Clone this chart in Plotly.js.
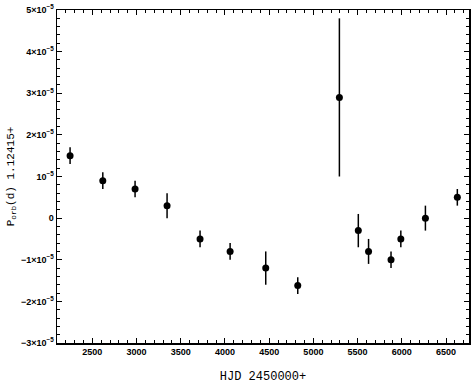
<!DOCTYPE html>
<html>
<head>
<meta charset="utf-8">
<script src="https://cdn.plot.ly/plotly-3.0.1.min.js"></script>
<style>html,body{margin:0;padding:0;background:#fff;}#chart{width:474px;height:384px;}</style>
</head>
<body>
<div id="chart"></div>
<script>
// HJD - 2450000
var hjd = [2248, 2618, 2983, 3345, 3718, 4058, 4461, 4823, 5294, 5508, 5624, 5878, 5989, 6267, 6628];
// Porb(d) - 1.12415
var porb = [1.5e-5, 0.9e-5, 0.7e-5, 0.3e-5, -0.5e-5, -0.8e-5, -1.2e-5, -1.62e-5, 2.9e-5, -0.3e-5, -0.8e-5, -1.0e-5, -0.5e-5, 0.0, 0.5e-5];
var porbErr = [0.2e-5, 0.2e-5, 0.2e-5, 0.3e-5, 0.2e-5, 0.2e-5, 0.4e-5, 0.2e-5, 1.9e-5, 0.4e-5, 0.3e-5, 0.2e-5, 0.2e-5, 0.3e-5, 0.2e-5];

var xTickVals = [2500, 3000, 3500, 4000, 4500, 5000, 5500, 6000, 6500];
var yTickVals = [-3e-5, -2e-5, -1e-5, 0, 1e-5, 2e-5, 3e-5, 4e-5, 5e-5];
var yTickText = ['\u22123\u00d710<sup>\u22125</sup>', '\u22122\u00d710<sup>\u22125</sup>', '\u22121\u00d710<sup>\u22125</sup>', '0', '10<sup>\u22125</sup>', '2\u00d710<sup>\u22125</sup>', '3\u00d710<sup>\u22125</sup>', '4\u00d710<sup>\u22125</sup>', '5\u00d710<sup>\u22125</sup>'];

var trace = {
  x: hjd, y: porb, type: 'scatter', mode: 'markers',
  marker: {color: '#000', size: 7},
  error_y: {type: 'data', array: porbErr, visible: true, color: '#000', thickness: 1.5, width: 0},
  hoverinfo: 'none'
};

var tickFont = {family: 'Liberation Sans, Arial, sans-serif', size: 9, color: '#000', weight: 'bold'};
var layout = {
  width: 474, height: 384,
  margin: {l: 57, r: 5, t: 10, b: 41},
  paper_bgcolor: '#fff', plot_bgcolor: '#fff',
  showlegend: false,
  xaxis: {
    range: [2100, 6760], tickvals: xTickVals, ticktext: xTickVals.map(String),
    ticks: 'inside', ticklen: 5, tickwidth: 1, tickcolor: '#000',
    minor: {dtick: 100, ticks: 'inside', ticklen: 3, tickwidth: 1, tickcolor: '#000', showgrid: false},
    showline: true, linecolor: '#000', linewidth: 1.5, mirror: 'ticks',
    showgrid: false, zeroline: false, tickfont: tickFont,
    title: {text: 'HJD 2450000+', font: {family: 'Liberation Mono, Courier New, monospace', size: 12, color: '#000'}, standoff: 17}
  },
  yaxis: {
    range: [-3e-5, 5e-5], tickvals: yTickVals, ticktext: yTickText,
    ticks: 'inside', ticklen: 5, tickwidth: 1, tickcolor: '#000',
    minor: {dtick: 2e-6, ticks: 'inside', ticklen: 3, tickwidth: 1, tickcolor: '#000', showgrid: false},
    showline: true, linecolor: '#000', linewidth: 1.5, mirror: 'ticks',
    showgrid: false, zeroline: false, tickfont: tickFont,
    title: {text: 'P<sub>orb</sub>(d) 1.12415+', font: {family: 'Liberation Mono, Courier New, monospace', size: 11, color: '#000'}, standoff: 4}
  }
};
Plotly.newPlot('chart', [trace], layout, {staticPlot: true});
</script>
</body>
</html>
